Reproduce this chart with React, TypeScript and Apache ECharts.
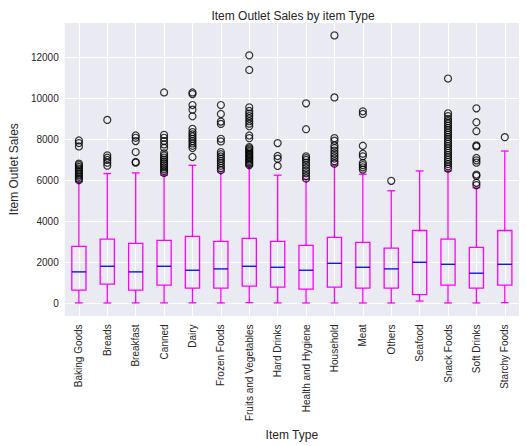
import React, { useEffect, useRef } from "react";
import * as echarts from "echarts";

const categories = [
  "Baking Goods", "Breads", "Breakfast", "Canned", "Dairy", "Frozen Foods",
  "Fruits and Vegetables", "Hard Drinks", "Health and Hygiene", "Household",
  "Meat", "Others", "Seafood", "Snack Foods", "Soft Drinks", "Starchy Foods",
];

// [lower whisker, q1, median, q3, upper whisker]
const boxStats = [
  [37, 662, 1550, 2794, 5943],
  [33, 953, 1825, 3149, 6347],
  [37, 662, 1550, 2939, 6379],
  [37, 904, 1825, 3085, 6266],
  [40, 759, 1631, 3278, 6750],
  [37, 759, 1696, 3036, 6427],
  [48, 856, 1825, 3182, 6718],
  [37, 807, 1776, 3036, 6266],
  [34, 711, 1631, 2842, 6056],
  [33, 807, 1970, 3230, 6750],
  [33, 759, 1776, 2988, 6314],
  [33, 759, 1696, 2713, 5507],
  [129, 436, 2019, 3569, 6476],
  [33, 904, 1922, 3149, 6476],
  [33, 759, 1486, 2746, 5653],
  [48, 904, 1922, 3569, 7445],
];

const outliers = [
  [6024, 6100, 6190, 6262, 6350, 6430, 6505, 6590, 6668, 6752, 6830, 7670, 7834, 7962],
  [6734, 6880, 7010, 7120, 7235, 8963],
  [6880, 6912, 7397, 7931, 8091, 8204],
  [6380, 6470, 6555, 6650, 6748, 6842, 6930, 7030, 7128, 7230, 7332, 7607, 7768, 7931, 8091, 8236, 10304],
  [7154, 7590, 7702, 7818, 7930, 8040, 8152, 8262, 8370, 8527, 9141, 9464, 9690, 10223, 10304],
  [6508, 6620, 6730, 6850, 6960, 7070, 7180, 7290, 7397, 7914, 8043, 8769, 8882, 9254, 9690],
  [6752, 6820, 6890, 6960, 7030, 7100, 7170, 7240, 7310, 7380, 7450, 7520, 7580, 7639, 8075, 8204, 8656, 8780, 8900, 9030, 9150, 9270, 9400, 9577, 11401, 12112],
  [6718, 7073, 7203, 7833],
  [6105, 6230, 6360, 6490, 6620, 6750, 6880, 7010, 7100, 7187, 8511, 9771],
  [6831, 6950, 7080, 7200, 7330, 7460, 7590, 7720, 7950, 8075, 10062, 13087],
  [6541, 6650, 6760, 6863, 7187, 7316, 7704, 9254, 9383],
  [5992],
  [],
  [6589, 6700, 6810, 6920, 7030, 7140, 7250, 7360, 7470, 7580, 7690, 7800, 7910, 8020, 8130, 8240, 8350, 8460, 8570, 8680, 8790, 8900, 9010, 9150, 9286, 10982],
  [5782, 5894, 6234, 6298, 6880, 6992, 7106, 7670, 7720, 8414, 8850, 9528],
  [8123],
];

const yTicks = [0, 2000, 4000, 6000, 8000, 10000, 12000];

const TEXT = "#262626";
const FONT = "Liberation Sans, Arial, sans-serif";

export default function App() {
  const ref = useRef<HTMLDivElement>(null);
  useEffect(() => {
    document.body.style.margin = "0";
    const chart = echarts.init(ref.current!, undefined, { renderer: "svg" });
    const boxData = boxStats.map((s, i) => [i, ...s]);
    const outlierData: number[][] = [];
    outliers.forEach((arr, i) => arr.forEach((v) => outlierData.push([i, v])));
    chart.setOption({
      animation: false,
      backgroundColor: "#ffffff",
      textStyle: { fontFamily: FONT },
      title: {
        text: "Item Outlet Sales by item Type",
        left: 288,
        textAlign: "center",
        top: 5,
        textStyle: { fontSize: 12, fontWeight: "normal", color: TEXT, fontFamily: FONT },
      },
      grid: { left: 58, right: 7, top: 22, bottom: 127, containLabel: false, show: true, backgroundColor: "#EAEAF2", borderWidth: 0 },
      xAxis: {
        type: "category",
        data: categories,
        boundaryGap: true,
        name: "Item Type",
        nameLocation: "middle",
        nameGap: 104,
        nameTextStyle: { fontSize: 12, color: TEXT, fontFamily: FONT },
        axisLine: { show: false },
        axisTick: { show: false, alignWithLabel: true },
        axisLabel: { rotate: 90, fontSize: 10, color: TEXT, margin: 8, interval: 0, fontFamily: FONT },
        splitLine: { show: true, alignWithLabel: true, lineStyle: { color: "#ffffff", width: 1 } },
      },
      yAxis: {
        type: "value",
        min: -620,
        max: 13740,
        splitNumber: 7,
        name: "Item Outlet Sales",
        nameLocation: "middle",
        nameGap: 44,
        nameTextStyle: { fontSize: 12, color: TEXT, fontFamily: FONT },
        axisLine: { show: false },
        axisTick: { show: false },
        axisLabel: {
          fontSize: 10,
          color: TEXT,
          margin: 6,
          fontFamily: FONT,
          showMinLabel: false,
          showMaxLabel: false,
          formatter: (v: number) => (yTicks.includes(v) ? String(v) : ""),
        },
        splitLine: { show: true, lineStyle: { color: "#ffffff", width: 1 } },
      },
      series: [
        {
          type: "custom",
          data: boxData,
          encode: { x: 0, y: [1, 2, 3, 4, 5] },
          z: 3,
          renderItem: (params: any, api: any) => {
            const idx = api.value(0);
            const lo = api.coord([idx, api.value(1)]);
            const q1 = api.coord([idx, api.value(2)]);
            const md = api.coord([idx, api.value(3)]);
            const q3 = api.coord([idx, api.value(4)]);
            const hi = api.coord([idx, api.value(5)]);
            const bw = api.size([1, 0])[0] * 0.5;
            const cw = bw * 0.55;
            const x = lo[0];
            const mag = { stroke: "#FF00FF", lineWidth: 1.3, fill: "none" };
            return {
              type: "group",
              children: [
                { type: "line", shape: { x1: x, y1: q1[1], x2: x, y2: lo[1] }, style: mag },
                { type: "line", shape: { x1: x, y1: q3[1], x2: x, y2: hi[1] }, style: mag },
                { type: "line", shape: { x1: x - cw / 2, y1: lo[1], x2: x + cw / 2, y2: lo[1] }, style: mag },
                { type: "line", shape: { x1: x - cw / 2, y1: hi[1], x2: x + cw / 2, y2: hi[1] }, style: mag },
                { type: "rect", shape: { x: x - bw / 2, y: q3[1], width: bw, height: q1[1] - q3[1] }, style: mag },
                { type: "line", shape: { x1: x - bw / 2, y1: md[1], x2: x + bw / 2, y2: md[1] }, style: { stroke: "#0000FF", lineWidth: 1.3 } },
              ],
            };
          },
        },
        {
          type: "scatter",
          data: outlierData,
          symbol: "circle",
          symbolSize: 7,
          z: 4,
          itemStyle: { color: "rgba(0,0,0,0)", borderColor: "#000000", borderWidth: 1.2 },
        },
      ],
    });
    return () => chart.dispose();
  }, []);
  return <div ref={ref} style={{ width: 526, height: 446 }} />;
}
